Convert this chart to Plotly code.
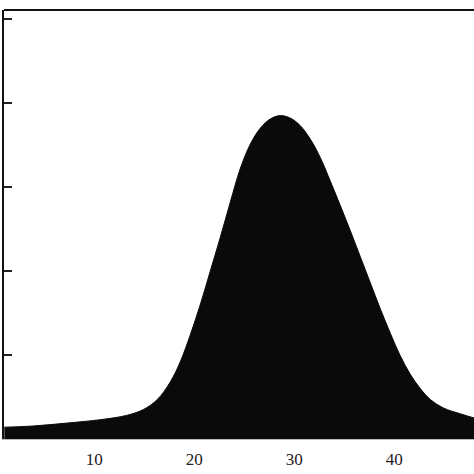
import plotly.graph_objects as go

# values
x_vals = [1.0, 3.9, 7.3, 10.6, 13.2, 14.9, 16.3, 17.6, 18.6, 19.6, 20.6, 21.6,
          22.6, 23.6, 24.6, 25.6, 26.6, 27.6, 28.6, 29.6, 30.6, 31.6, 32.6,
          33.6, 34.6, 35.6, 36.6, 37.6, 38.6, 39.6, 40.6, 41.6, 42.6, 43.6,
          44.9, 46.6, 48.0]
y_vals = [0.14, 0.155, 0.19, 0.23, 0.28, 0.35, 0.47, 0.68, 0.92, 1.24, 1.60, 2.00,
          2.40, 2.82, 3.22, 3.51, 3.70, 3.81, 3.85, 3.82, 3.73, 3.57, 3.35,
          3.07, 2.78, 2.48, 2.17, 1.86, 1.55, 1.26, 0.99, 0.77, 0.60, 0.47,
          0.37, 0.30, 0.25]
x_ticks = [10, 20, 30, 40]
y_ticks = [1, 2, 3, 4, 5]

fig = go.Figure()
fig.add_trace(go.Scatter(
    x=x_vals, y=y_vals, mode="lines", fill="tozeroy",
    line=dict(color="#0a0a0a", width=1, shape="spline", smoothing=1.0),
    fillcolor="#0a0a0a", showlegend=False, hoverinfo="skip",
))

fig.update_layout(
    width=474, height=474,
    margin=dict(l=4, r=0, t=10, b=35),
    paper_bgcolor="white", plot_bgcolor="white",
    font=dict(family="Liberation Serif", size=17, color="#222"),
)
fig.update_xaxes(
    range=[0.97, 47.97], tickvals=x_ticks, ticks="", showgrid=False,
    zeroline=False, showline=True, linecolor="#bbbbbb", linewidth=1,
    ticklabelstandoff=5,
)
fig.update_yaxes(
    range=[0, 5.107], tickvals=y_ticks, ticks="inside", ticklen=8,
    tickwidth=2, tickcolor="#222", showticklabels=False, showgrid=False,
    zeroline=False, showline=True, linecolor="#111", linewidth=2,
)
# heavy frame line along the top
fig.add_shape(type="line", xref="paper", yref="paper", x0=0, x1=1, y0=1, y1=1,
              line=dict(color="#111", width=2))

# drop the default page margin so the figure sits at the window corner
fig.write_html("out.html", config={"displayModeBar": False},
               post_script="document.body.style.margin='0';")
